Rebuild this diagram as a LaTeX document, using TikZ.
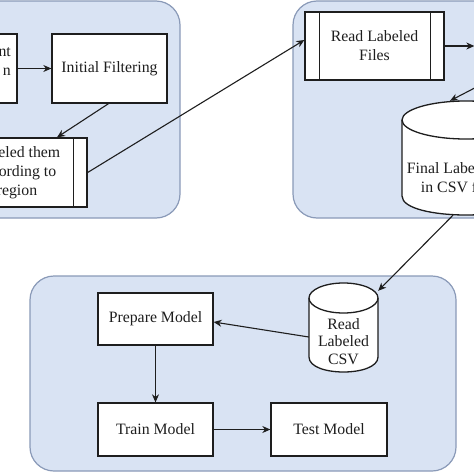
\documentclass[tikz,border=0pt]{standalone}
\usepackage{fontspec}
\setmainfont{Liberation Serif}
\usetikzlibrary{arrows.meta,calc}
\definecolor{panelfill}{HTML}{D9E3F3}
\definecolor{panelline}{HTML}{8A9AB8}
\definecolor{ink}{HTML}{1E1E1E}
\newcommand\mycyl[5]{%
  \fill[white] ({#1-#4},{#2+#5}) rectangle ({#1+#4},{#3-#5});
  \fill[white] (#1,{#3-#5}) ellipse [x radius=#4, y radius=#5];
  \draw[cylline,fill=white] (#1,{#2+#5}) ellipse [x radius=#4, y radius=#5];
  \draw[cylline] ({#1-#4},{#2+#5}) -- ({#1-#4},{#3-#5}) .. controls ({#1-#4},{#3-#5+1.3333*#5}) and ({#1+#4},{#3-#5+1.3333*#5}) .. ({#1+#4},{#3-#5}) -- ({#1+#4},{#2+#5});
}
\begin{document}
\begin{tikzpicture}[x=1pt,y=-1pt,
  panel/.style={draw=panelline, fill=panelfill, line width=1.2pt, rounded corners=24pt},
  box/.style={draw=ink, fill=white, line width=1.3pt, inner sep=0pt, font=\fontsize{15.8}{19}\selectfont, text=ink, align=center},
  ghost/.style={inner sep=0pt},
  txt/.style={inner sep=0pt, font=\fontsize{15.8}{19}\selectfont, text=ink},
  cylline/.style={draw=ink, line width=1.3pt},
  sideline/.style={draw=ink, line width=1.3pt},
  arr/.style={draw=ink, line width=1.1pt, -{Stealth[length=8pt,width=7pt,inset=2.5pt]}}
]
\useasboundingbox (0,0) rectangle (474,474);
\clip (0,0) rectangle (474,474);
\fill[white] (0,0) rectangle (474,474);

% panels
\draw[panel] (-60,1) rectangle (180,218);
\draw[panel] (293,1) rectangle (540,218);
\draw[panel] (30,276) rectangle (456,471);

% top-left panel
\node[box, minimum width=115pt, minimum height=69pt] (A) at (-40.5,68.5) {};
\node[txt, align=right, anchor=east] (Atxt) at (11,61.5) {nt\\n\hspace{3pt}};
\node[box, minimum width=115pt, minimum height=69pt] (B) at (109.5,68.5) {Initial Filtering};
\node[box, minimum width=140pt, minimum height=69pt] (C) at (17,172.5) {Labeled them\\according to\\region};
\draw[sideline] ([xshift=-14pt]C.north east) -- ([xshift=-14pt]C.south east);

% top-right panel
\node[box, minimum width=139pt, minimum height=68pt] (D) at (374.5,46) {Read Labeled\\Files};
\draw[sideline] ([xshift=15pt]D.north west) -- ([xshift=15pt]D.south west);
\draw[sideline] ([xshift=-14pt]D.north east) -- ([xshift=-14pt]D.south east);
\node[box, minimum width=120pt, minimum height=68pt] (E) at (535,46) {};
\coordinate (F) at (490,80);
\mycyl{466}{101}{215}{64}{19}
\node[ghost, minimum width=128pt, minimum height=114pt] (G) at (466,158) {};
\node[txt, align=center] (Gtxt) at (467.5,177.5) {Final Labeled Data\\in CSV format};

% bottom panel
\mycyl{343.5}{283}{372}{34.5}{15}
\node[ghost, minimum width=69pt, minimum height=89pt] (H) at (343.5,327.5) {};
\node[txt, align=center, font=\fontsize{15.8}{17.5}\selectfont] (Htxt) at (343.5,341.5) {Read\\Labeled\\CSV};
\node[box, minimum width=115pt, minimum height=52pt] (I) at (155.5,319) {Prepare Model};
\node[box, minimum width=115pt, minimum height=53pt] (J) at (155.5,429.5) {Train Model};
\node[box, minimum width=116pt, minimum height=53pt] (K) at (329,429.5) {Test Model};

% connectors
\draw[arr] (A.east) -- (B.west);
\draw[arr] ([xshift=-1pt]B.south) -- ([xshift=40pt]C.north);
\draw[arr] (C.east) -- ([yshift=6pt]D.west);
\draw[arr] (D.east) -- (E.west);
\draw[arr] (F) -- ([xshift=-16pt]G.north);
\draw[arr] ([xshift=-13pt]G.south) -- ([yshift=-8pt]H.north east);
\draw[arr] ([yshift=-9.5pt]H.west) -- ([yshift=-3pt]I.east);
\draw[arr] (I.south) -- (J.north);
\draw[arr] (J.east) -- (K.west);
\end{tikzpicture}
\end{document}
